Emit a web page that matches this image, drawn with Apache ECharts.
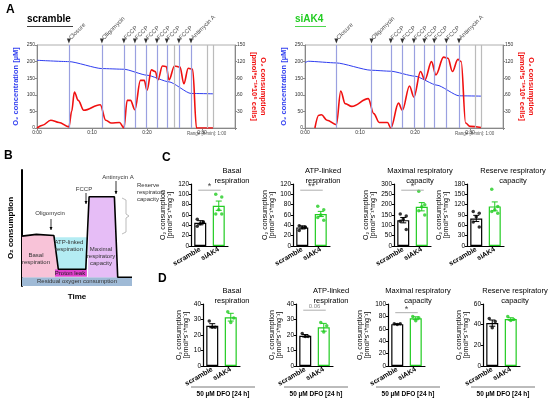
<!DOCTYPE html>
<html><head><meta charset="utf-8">
<script src="https://cdn.jsdelivr.net/npm/echarts@6/dist/echarts.min.js"></script>
<style>html,body{margin:0;background:#fff}#c{width:550px;height:401px}</style>
</head><body><div id="c"></div>
<script>
// ---- Panel A data (time in minutes) ----
const eventNames = ['Closure','Oligomycin','FCCP','FCCP','FCCP','FCCP','FCCP','FCCP','Antimycin A'];
const eventsScr = [5.8,11.8,15.8,17.8,19.8,21.8,23.6,25.8,28];
const eventsSi = [5.7,12.1,15.6,17.7,19.8,21.7,23.5,25.7,28];
const greyScr = [25, 31, 32];
const greySi = [31, 32];
const redScr = [[0,0],[1,5],[2.5,14],[4,10],[5.8,2],[6.3,30],[6.8,65],[7.5,50],[8.5,32],[11.5,42],[12.5,14],[13.5,9],[15,10],[15.8,0],[16.4,50],[17,50],[17.8,33],[18.8,86],[19.5,86],[20,68],[20.8,105],[21.5,102],[22,87],[22.8,112],[23.5,111],[24,87],[25,112],[26,110],[26.7,80],[27.5,108],[28.3,106],[29,0],[32,0]];
const blueScr = [[0,204],[5.8,200],[11.8,179],[15.8,177],[20,159],[24,139],[28,104],[32,103]];
const redSi = [[1.8,0],[2.5,23],[3,24],[4,14],[5.7,6],[6.5,67],[7.3,44],[8.5,39],[11.5,53],[12.5,26],[13.5,10],[15,10],[15.6,0],[17,45],[17.7,32],[19,76],[19.8,56],[21,102],[21.8,87],[23,120],[23.8,96],[25.2,128],[26,126],[26.8,102],[27.8,124],[28.4,120],[29.2,9],[30,3],[32,1]];
const blueSi = [[0,197],[0.6,201],[5.7,196],[12,174],[15.6,171],[20,156],[24,129],[28,97],[32,96]];
const aXTicks = ['0:00','0:10','0:20','0:30'];
// ---- Panel C/D data ----
const groups = ['scramble','siAK4'];
const cTitles = ['Basal\nrespiration','ATP-linked\nrespiration','Maximal respiratory\ncapacity','Reserve respiratory\ncapacity'];
const cScr = [[52,47,43,38,45],[39,37,36,30,36],[155,145,130,120,80],[100,95,85,70,55]];
const cSi = [[100,95,70,62,62],[77,70,60,55,50],[265,200,190,170,150],[165,115,105,100,95]];
const cMeanScr = [45,36,125,80];
const cMeanSi = [78,62,190,115];
const cSemScr = [4,3,13,9];
const cSemSi = [9,5,20,13];
const cMax = [120,120,300,180];
const cInt = [20,20,50,30];
const cSig = ['*','**','*',''];
const cSigY = [108,108,270,0];
const dScr = [[29,25,25],[21,19,19],[68,68,67],[46,43,37]];
const dSi = [[35,31,28],[28,26,22],[80,78,73],[48,45,44]];
const dMeanScr = [26,19.5,67.5,41.5];
const dMeanSi = [31.5,25,77,45.5];
const dSemScr = [1.3,0.8,0.4,3];
const dSemSi = [2.5,2.5,2.3,1.2];
const dMax = [40,40,100,60];
const dInt = [10,10,20,20];
const dSig = ['','0.06','*',''];
const dSigY = [0,36,86,0];

const BLUE='#2f3df0', RED='#f01010', GREEN='#22cc22';
const grid=[], xAxis=[], yAxis=[], series=[], title=[], graphic=[];

// ---- Panel A ----
function panelA(left, red, blue, ev, grey, name, nameColor){
  const gi = grid.length;
  grid.push({left:left, top:45, width:198, height:83, show:true, borderColor:'#999', borderWidth:0.8});
  xAxis.push({gridIndex:gi, type:'value', min:0, max:36, interval:10,
    axisLine:{lineStyle:{color:'#888'}}, axisTick:{length:2}, splitLine:{show:false},
    axisLabel:{fontSize:5, color:'#333', margin:2, formatter:v=>v<=30?aXTicks[v/10]:''}});
  const yb = yAxis.length;
  yAxis.push({gridIndex:gi, type:'value', min:0, max:250, interval:50, splitLine:{show:false},
    axisLine:{show:true,lineStyle:{color:'#888'}}, axisTick:{show:true,length:2},
    axisLabel:{fontSize:5,color:'#333',margin:2},
    name:'O₂ concentration [µM]', nameLocation:'middle', nameGap:17,
    nameTextStyle:{color:BLUE,fontSize:7.5,fontWeight:'bold'}});
  yAxis.push({gridIndex:gi, type:'value', min:0, max:150, interval:30, position:'right', splitLine:{show:false},
    axisLine:{show:true,lineStyle:{color:'#888'}}, axisTick:{show:true,length:2},
    axisLabel:{fontSize:5,color:'#333',margin:2,formatter:v=>v===0?'':v},
    name:'O₂ consumption\n[pmol*s⁻¹*10⁶ cells]', nameLocation:'middle', nameGap:14, nameRotate:-90,
    nameTextStyle:{color:RED,fontSize:7.5,fontWeight:'bold',lineHeight:9}});
  series.push({type:'line', xAxisIndex:gi, yAxisIndex:yb, data:blue, symbol:'none', smooth:0.2, smoothMonotone:'x',
    lineStyle:{color:BLUE,width:1}, z:3,
    markLine:{silent:true, symbol:'none', label:{show:false},
      data: ev.map(t=>({xAxis:t, lineStyle:{color:'#9aa0e0',width:1.2,type:'solid'}}))
        .concat(grey.map(t=>({xAxis:t, lineStyle:{color:'#bbb',width:1.2,type:'solid'}})))}});
  series.push({type:'line', xAxisIndex:gi, yAxisIndex:yb+1, data:red, symbol:'none', smooth:0.35, smoothMonotone:'x',
    lineStyle:{color:RED,width:1.6}, z:4});
  series.push({type:'scatter', xAxisIndex:gi, yAxisIndex:yb, clip:false, z:5,
    data: ev.map((t,i)=>[t,262,eventNames[i]]), symbol:'triangle', symbolRotate:180, symbolSize:[4,5],
    itemStyle:{color:'#000'},
    label:{show:true, formatter:p=>p.data[2], rotate:45, position:[1,-2], align:'left', fontSize:6, color:'#222'}});
  graphic.push({type:'text', left:left-10, top:14, style:{text:name, fill:nameColor, font:'bold 10px Arial'}});
  graphic.push({type:'rect', shape:{x:left-10, y:26, width:name==='scramble'?46:31, height:0.8}, style:{fill:nameColor}});
  graphic.push({type:'text', left:left+150, top:131, style:{text:'Range [h:min]: 1:00', fill:'#555', font:'4.5px Arial'}});
}
panelA(37, redScr, blueScr, eventsScr, greyScr, 'scramble', '#000');
panelA(305, redSi, blueSi, eventsSi, greySi, 'siAK4', GREEN);

// ---- Panel B (schematic) ----
const bPolys = [
  {c:'#9fbad6', p:[[0,0],[10,0],[10,0.75],[0,0.75]]},
  {c:'#e040cc', p:[[3.0,0.8],[5.9,0.8],[5.9,1.45],[3.0,1.45]]},
  {c:'#f8c3d8', p:[[0,0.75],[3.0,0.75],[3.0,1.45],[3.3,1.45],[2.9,4.35],[1.3,4.45],[0,4.3]]},
  {c:'#b4ecf3', p:[[3.3,1.45],[5.9,1.45],[5.95,4.2],[2.95,4.2]]},
  {c:'#e6bdf6', p:[[6.0,0.75],[8.7,0.75],[8.4,7.7],[6.1,7.7]]}
];
const bOutline = [[0,4.3],[1.3,4.45],[2.9,4.35],[3.3,1.45],[5.8,1.45],[6.1,7.7],[8.4,7.7],[8.7,0.75],[10,0.75]];
{
  const gi = grid.length;
  grid.push({left:22, top:170, width:110, height:116});
  xAxis.push({gridIndex:gi, type:'value', min:0, max:10, show:true, axisLine:{show:false},
    axisTick:{show:false}, axisLabel:{show:false}, splitLine:{show:false},
    name:'Time', nameLocation:'middle', nameGap:7, nameTextStyle:{fontSize:8,fontWeight:'bold',color:'#000'}});
  yAxis.push({gridIndex:gi, type:'value', min:0, max:10, axisLine:{show:true,lineStyle:{color:'#000',width:2}},
    axisTick:{show:false}, axisLabel:{show:false}, splitLine:{show:false},
    name:'O₂ consumption', nameLocation:'middle', nameGap:7, nameTextStyle:{fontSize:8,fontWeight:'bold',color:'#000'}});
  const yi = yAxis.length-1;
  series.push({type:'custom', xAxisIndex:gi, yAxisIndex:yi, data:bPolys.map((_,i)=>[i]), silent:true,
    renderItem:(params,api)=>{const q=bPolys[api.value(0)];
      return {type:'polygon', shape:{points:q.p.map(pt=>api.coord(pt))}, style:{fill:q.c}};}});
  series.push({type:'line', xAxisIndex:gi, yAxisIndex:yi, data:bOutline, symbol:'none', lineStyle:{color:'#000',width:1.6}, z:5, silent:true});
  const T=(x,y,t,extra)=>graphic.push(Object.assign({type:'text', x:x, y:y, z:10, style:Object.assign({text:t, fill:'#333', font:'6px Arial', align:'center', verticalAlign:'middle', lineHeight:7},extra||{})}));
  T(36,259,'Basal\nrespiration');
  T(69,246,'ATP-linked\nrespiration');
  T(70,273,'Proton leak',{fill:'#222'});
  T(77,281,'Residual oxygen consumption');
  T(101,256,'Maximal\nrespiratory\ncapacity');
  T(50,213,'Oligomycin');
  T(84,189,'FCCP');
  T(118,177,'Antimycin A');
  T(137,192,'Reserve\nrespiratory\ncapacity',{align:'left'});
  const A=(x,y1,y2)=>{graphic.push({type:'line',shape:{x1:x,y1:y1,x2:x,y2:y2},style:{stroke:'#000',lineWidth:0.8}});
    graphic.push({type:'polygon',shape:{points:[[x-1.5,y2-3],[x+1.5,y2-3],[x,y2]]},style:{fill:'#000'}});};
  A(51,219,230); A(86,193,204); A(116,181,194);
  graphic.push({type:'polyline',shape:{points:[[122,198],[126,200],[126,214],[129,216],[126,218],[126,232],[122,234]]},style:{stroke:'#aaa',lineWidth:0.8,fill:null}});
}

// ---- Panels C & D ----
const jit = [-3,3,0,-3,3];
function barChart(left, top, ttl, tx, scr, si, mScr, mSi, sScr, sSi, max, intv, sig, sigY, dfo){
  const gi = grid.length;
  grid.push({left:left, top:top, width:37, height:62});
  xAxis.push({gridIndex:gi, type:'category', data:groups, axisLine:{lineStyle:{color:'#000',width:1.2}},
    axisTick:{show:false}, axisLabel:{rotate:30, fontSize:7, fontWeight:'bold', color:'#000', margin:3, interval:0}});
  yAxis.push({gridIndex:gi, type:'value', min:0, max:max, interval:intv, splitLine:{show:false},
    axisLine:{show:true,lineStyle:{color:'#000',width:1.2}}, axisTick:{show:true,length:2,lineStyle:{color:'#000'}},
    axisLabel:{fontSize:6.5,color:'#000',margin:2},
    name:'O₂ consumption\n[pmol*s⁻¹*mg⁻¹]', nameLocation:'middle', nameGap:13,
    nameTextStyle:{fontSize:7,color:'#000',lineHeight:7.5}});
  const yi = yAxis.length-1;
  series.push({type:'bar', xAxisIndex:gi, yAxisIndex:yi, barWidth:12,
    data:[{value:mScr,itemStyle:{color:'#fff',borderColor:'#000',borderWidth:1.2}},{value:mSi,itemStyle:{color:'#fff',borderColor:GREEN,borderWidth:1.2}}]});
  const pts = scr.map((v,i)=>({value:[0,v],symbolOffset:[jit[i],0],itemStyle:{color:'#000'}}))
    .concat(si.map((v,i)=>({value:[1,v],symbolOffset:[jit[i],0],itemStyle:{color:GREEN}})));
  series.push({type:'scatter', xAxisIndex:gi, yAxisIndex:yi, data:pts, symbolSize:3.5, z:4});
  series.push({type:'custom', xAxisIndex:gi, yAxisIndex:yi, z:5,
    data:[[0,mScr,sScr],[1,mSi,sSi]],
    renderItem:(p,api)=>{const c=api.value(0),m=api.value(1),s=api.value(2);
      const a=api.coord([c,m+s]), b=api.coord([c,m-s]), col=['#000',GREEN][c];
      return {type:'group',children:[
        {type:'line',shape:{x1:a[0],y1:a[1],x2:b[0],y2:b[1]},style:{stroke:col,lineWidth:1}},
        {type:'line',shape:{x1:a[0]-3,y1:a[1],x2:a[0]+3,y2:a[1]},style:{stroke:col,lineWidth:1}},
        {type:'line',shape:{x1:b[0]-3,y1:b[1],x2:b[0]+3,y2:b[1]},style:{stroke:col,lineWidth:1}}]};}});
  if(sig){
    series.push({type:'custom', xAxisIndex:gi, yAxisIndex:yi, z:5, data:[[0,1,sigY]],
      renderItem:(p,api)=>{const a=api.coord([0,api.value(2)]), b=api.coord([1,api.value(2)]);
        const col = sig==='0.06'?'#888':'#444';
        return {type:'group',children:[
          {type:'line',shape:{x1:a[0]-2,y1:a[1],x2:b[0]+2,y2:b[1]},style:{stroke:'#999',lineWidth:0.8}},
          {type:'text',x:(a[0]+b[0])/2,y:a[1]-(sig==='0.06'?1:-1),style:{text:sig,fill:col,font:(sig==='0.06'?'6px':'9px')+' Arial',align:'center',verticalAlign:'bottom'}}]};}});
  }
  title.push({text:ttl, left:tx, top:top-23, textAlign:'center',
    textStyle:{fontSize:7.5, fontWeight:'normal', color:'#000', lineHeight:10}});
  if(dfo){
    graphic.push({type:'line',shape:{x1:left-12,y1:top+83,x2:left+52,y2:top+83},style:{stroke:'#555',lineWidth:0.8}});
    graphic.push({type:'text',x:left+20,y:top+90,style:{text:'50 µM DFO [24 h]',fill:'#000',font:'bold 6.5px Arial',align:'center',verticalAlign:'middle'}});
  }
}
const cLefts=[191,293,394,467], dLefts=[203,296,388,483];
const cTx=[227,318,415,508], dTx=[227,326,413,510];
for(let i=0;i<4;i++) barChart(cLefts[i],184,cTitles[i],cTx[i],cScr[i],cSi[i],cMeanScr[i],cMeanSi[i],cSemScr[i],cSemSi[i],cMax[i],cInt[i],cSig[i],cSigY[i],false);
for(let i=0;i<4;i++) barChart(dLefts[i],304,cTitles[i],dTx[i],dScr[i],dSi[i],dMeanScr[i],dMeanSi[i],dSemScr[i],dSemSi[i],dMax[i],dInt[i],dSig[i],dSigY[i],true);

[['A',6,4],['B',4,150],['C',162,152],['D',158,273]].forEach(l=>graphic.push({type:'text',left:l[1],top:l[2],style:{text:l[0],fill:'#000',font:'bold 12px Arial'}}));

const chart = echarts.init(document.getElementById('c'));
chart.setOption({animation:false, backgroundColor:'#fff', textStyle:{fontFamily:'Arial, Liberation Sans'},
  title, grid, xAxis, yAxis, series, graphic});
</script></body></html>
